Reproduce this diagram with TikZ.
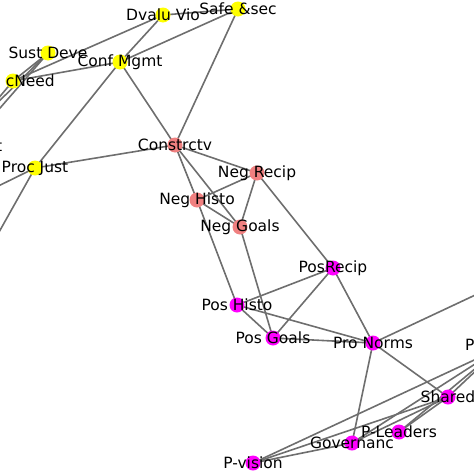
\documentclass[tikz,border=0pt]{standalone}
\usepackage{fontspec}
\setmainfont{DejaVu Sans}
\definecolor{nyellow}{RGB}{255,255,0}
\definecolor{ncoral}{RGB}{240,128,128}
\definecolor{nmagenta}{RGB}{255,0,255}
\definecolor{edgegray}{RGB}{110,110,110}
\begin{document}
\begin{tikzpicture}[x=1pt,y=-1pt,
  vtx/.style={circle,inner sep=0pt,minimum size=15pt},
  yv/.style={vtx,fill=nyellow},
  rv/.style={vtx,fill=ncoral},
  mv/.style={vtx,fill=nmagenta},
  lbl/.style={font=\fontsize{15.5}{18}\selectfont,inner sep=0pt,text=black},
  edge/.style={draw=edgegray,line width=1.6pt}]
\useasboundingbox (0,0) rectangle (474,474);
\clip (0,0) rectangle (474,474);
% off-canvas end points
\coordinate (offA) at (-20,120);
\coordinate (offB) at (-20,131);
\coordinate (offC) at (-20,195);
\coordinate (offD) at (-15,257);
\coordinate (offE) at (520,274);
\coordinate (offP) at (500,348);
% vertex positions
\coordinate (dv) at (163,15);
\coordinate (sf) at (238,9);
\coordinate (sd) at (48,53);
\coordinate (bn) at (13,81);
\coordinate (cm) at (120,62);
\coordinate (pj) at (35,168);
\coordinate (ct) at (175,145);
\coordinate (nr) at (257,173);
\coordinate (nh) at (197,200);
\coordinate (ng) at (240,227);
\coordinate (pr) at (333,268);
\coordinate (ph) at (237,305);
\coordinate (pg) at (273,338);
\coordinate (pn) at (373,343);
\coordinate (sh) at (448,397);
\coordinate (pl) at (399,432);
\coordinate (gv) at (352,443);
\coordinate (pv) at (253,463);
% edges
\foreach \a/\b in {dv/sf,dv/cm,dv/bn,sf/cm,sf/ct,sd/bn,sd/offA,bn/offA,sd/offB,
  cm/bn,cm/ct,cm/pj,pj/ct,pj/offC,pj/offD,ct/nr,ct/nh,ct/ng,nh/nr,nh/ng,nh/ph,
  nr/ng,nr/pr,ng/pg,pr/ph,pr/pg,pr/pn,ph/pg,ph/pn,pg/pn,pn/offE,pn/sh,pn/gv,
  pv/gv,pv/sh,pv/offP,gv/sh,gv/offP,pl/sh,pl/offP,sh/offP}
  {\draw[edge] (\a) -- (\b);}
% vertices on top of edges
\foreach \n/\s in {dv/yv,sf/yv,sd/yv,bn/yv,cm/yv,pj/yv,ct/rv,nr/rv,nh/rv,ng/rv,
  pr/mv,ph/mv,pg/mv,pn/mv,sh/mv,pl/mv,gv/mv,pv/mv}
  {\node[\s] (v\n) at (\n) {};}
% labels
\node[lbl] (ldv) at (dv) {Dvalu Vio};
\node[lbl] (lsf) at (sf) {Safe \&sec};
\node[lbl] (lsd) at (sd) {Sust Deve};
\node[lbl,anchor=east] (lbn) at ([xshift=42pt]bn) {cNeed};
\node[lbl] (lcm) at (cm) {Conf Mgmt};
\node[lbl] (lpj) at (pj) {Proc Just};
\node[lbl,anchor=east] (lt) at (2.5,146) {t};
\node[lbl] (lct) at (ct) {Constrctv};
\node[lbl] (lnr) at (nr) {Neg Recip};
\node[lbl] (lnh) at (nh) {Neg Histo};
\node[lbl] (lng) at (ng) {Neg Goals};
\node[lbl] (lpr) at (pr) {PosRecip};
\node[lbl] (lph) at (ph) {Pos Histo};
\node[lbl] (lpg) at (pg) {Pos Goals};
\node[lbl] (lpn) at (pn) {Pro Norms};
\node[lbl,anchor=west] (lp) at (465,345) {P};
\node[lbl] (lsh) at (sh) {Shared};
\node[lbl] (lpl) at (pl) {P-Leaders};
\node[lbl] (lgv) at (gv) {Governanc};
\node[lbl] (lpv) at (pv) {P-vision};
\end{tikzpicture}
\end{document}
